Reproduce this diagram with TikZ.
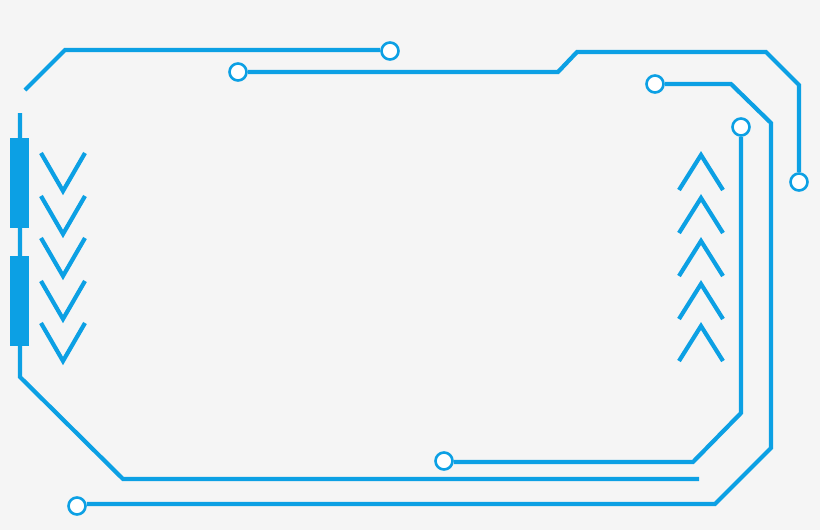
\documentclass[tikz,border=0pt]{standalone}
\definecolor{cb}{RGB}{12,160,228}
\definecolor{bg}{RGB}{245,245,245}
\begin{document}
\begin{tikzpicture}[x=1pt,y=-1pt,
  ln/.style={draw=cb,line width=4.2pt},
  pin/.style={circle,draw=cb,line width=2.6pt,fill=white,minimum size=17pt,inner sep=0pt}]
\fill[bg] (0,0) rectangle (820,530);
\useasboundingbox (0,0) rectangle (820,530);
% line 1
\node[pin] (p1) at (390,51) {};
\draw[ln] (25,90) -- (65,50) -- (p1.west |- 0,50);
% line 2
\node[pin] (p2) at (238,72) {};
\node[pin] (p3) at (799,182) {};
\draw[ln] (p2.east) -- (558,72) -- (577,52) -- (766,52) -- (799,85) -- (p3.north);
% line 3
\node[pin] (p4) at (655,84) {};
\node[pin] (p5) at (77,506) {};
\draw[ln] (p4.east) -- (731,84) -- (771,123) -- (771,448) -- (715,504) -- (p5.east |- 0,504);
% line 4
\node[pin] (p6) at (741,127) {};
\node[pin] (p7) at (444,461) {};
\draw[ln] (p6.south) -- (741,413) -- (693,462) -- (p7.east |- 0,462);
% line 5
\draw[ln] (20,113) -- (20,377) -- (123,479) -- (699,479);
\fill[cb] (10,138) rectangle (29,228);
\fill[cb] (10,256) rectangle (29,346);
% chevrons
\foreach \t in {153,196,238,281,323}{
  \draw[ln] (41,\t) -- (63,\t+38) -- (85,\t);
}
\foreach \t in {155,198,241,284,326}{
  \draw[ln] (679,\t+35) -- (701,\t) -- (723,\t+35);
}
\end{tikzpicture}
\end{document}
